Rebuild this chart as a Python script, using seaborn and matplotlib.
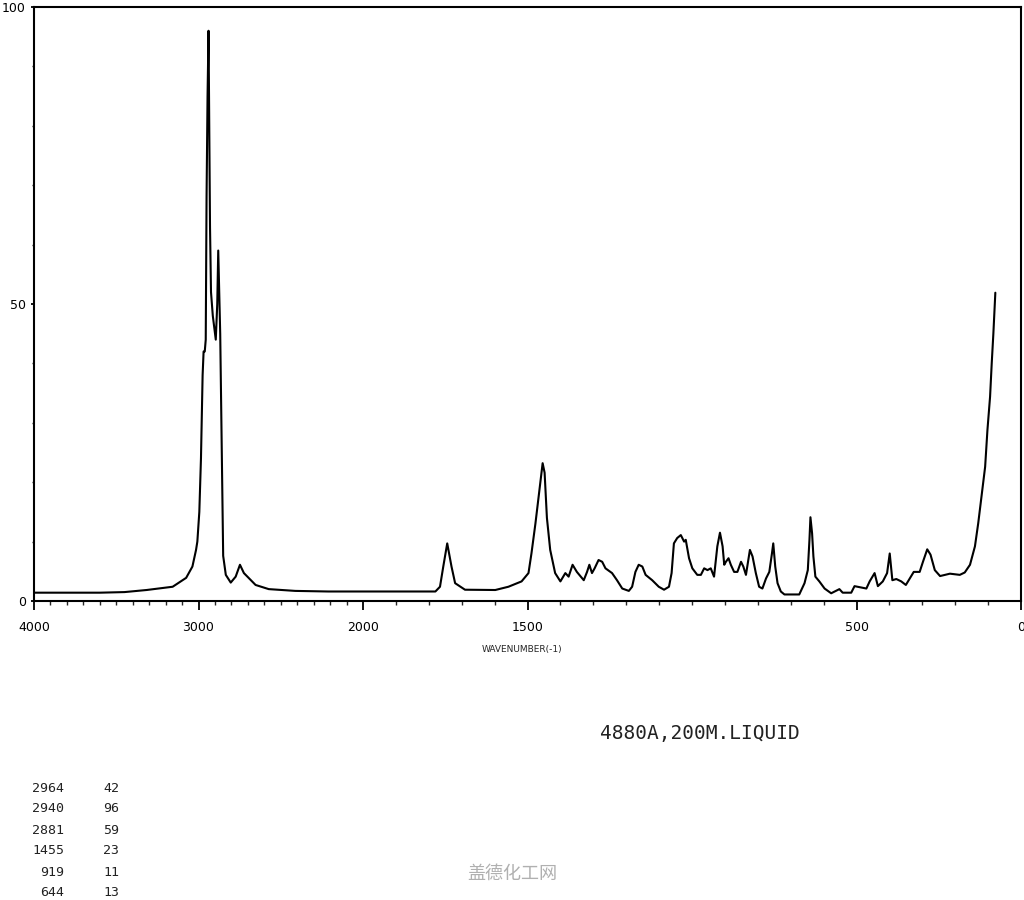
import numpy as np
import pandas as pd
import matplotlib
matplotlib.use("Agg")
import matplotlib.pyplot as plt
from matplotlib.ticker import FixedLocator, NullFormatter
import seaborn as sns

# spectrum (wavenumber, intensity)
wavenumber = [
    4000, 3800, 3600, 3450, 3316, 3157, 3075, 3037, 3015, 3007, 2995, 2985,
    2975, 2969, 2962, 2956, 2951, 2945, 2939, 2930, 2924, 2913, 2900, 2895,
    2886, 2880, 2874, 2868, 2858, 2850, 2834, 2804, 2774, 2748, 2724, 2653,
    2573, 2412, 2211, 2000,
    1900, 1780, 1766, 1756, 1744, 1731, 1720, 1690, 1598, 1558, 1518, 1497,
    1488, 1476, 1466, 1461, 1454, 1448, 1441, 1431, 1416, 1400, 1385, 1375,
    1363, 1350, 1329, 1319, 1312, 1304, 1296, 1284, 1273, 1263, 1243, 1228,
    1212, 1192, 1182, 1172, 1162, 1151, 1141, 1121, 1101, 1085, 1070, 1062,
    1055, 1045, 1034, 1024, 1019, 1009, 999, 984, 973, 963, 953, 943, 933,
    923, 915, 907, 902, 897, 889, 882, 872, 862, 851, 844, 836, 824, 816,
    806, 796, 786, 775, 765, 757, 753, 747, 740, 730, 719, 674, 658, 648,
    643, 640, 635, 631, 625, 613, 597, 577, 552, 542, 516, 506, 470, 460,
    445, 435, 420, 407, 399, 391, 379, 364, 350, 338, 326, 308, 298, 285,
    275, 262, 246, 216, 186, 171, 155, 140, 130, 120, 109, 102, 94, 89, 84, 78,
]
intensity = [
    1.4, 1.4, 1.4, 1.5, 1.85, 2.4, 3.9, 5.8, 8.6, 10, 15, 24,
    38, 42, 42, 44, 68, 85, 96, 63, 52, 48, 45, 44,
    50, 59, 52, 45, 24, 7.6, 4.4, 3.1, 4.1, 6.1, 4.7, 2.7,
    2.0, 1.7, 1.6, 1.6,
    1.6, 1.6, 2.4, 5.8, 9.7, 5.8, 3.0, 1.9, 1.85, 2.4, 3.3, 4.7,
    8, 13, 17.6, 20, 23.2, 21.6, 14, 8.6, 4.7, 3.3, 4.7, 4.1,
    6.1, 4.9, 3.5, 4.9, 6.1, 4.7, 5.5, 6.9, 6.6, 5.5, 4.7, 3.5,
    2.1, 1.7, 2.4, 4.9, 6.1, 5.8, 4.4, 3.5, 2.4, 1.9, 2.4, 4.7,
    9.7, 10.6, 11.1, 10, 10.3, 7.2, 5.5, 4.4, 4.4, 5.5, 5.2, 5.5, 4.1,
    9.2, 11.5, 9.2, 6.1, 6.6, 7.2, 6.1, 4.9, 4.9, 6.6, 5.8, 4.4, 8.6, 7.5,
    4.7, 2.4, 2.1, 3.8, 4.9, 8, 9.7, 5.8, 3.0, 1.6, 1.1, 1.1, 3.0, 5.2,
    10.3, 14.1, 11.4, 7.5, 4.1, 3.3, 2.1, 1.3, 2.0, 1.4, 1.4, 2.5, 2.1, 3.3,
    4.7, 2.5, 3.3, 4.7, 8, 3.5, 3.7, 3.3, 2.7, 3.8, 4.9, 4.9, 6.6, 8.7,
    7.8, 5.2, 4.2, 4.6, 4.4, 4.8, 6.1, 9.2, 13.1, 17.6, 22.6, 28.8, 34.4, 40, 45, 51.9,
]

peak_wn = ["2964", "2940", "2881", "1455", "919", "644"]
peak_int = ["42", "96", "59", "23", "11", "13"]

xtick_labels = [4000, 3000, 2000, 1500, 500, 0]
xtick_minor = list(range(0, 4001, 100))
ytick_labels = [0, 50, 100]
ytick_minor = list(range(0, 101, 10))

sns.set_style("white")
plt.rcParams['font.family'] = ['DejaVu Sans']


def fwd(w):
    # above 2000 cm-1 the chart is drawn at half scale
    w = np.asarray(w, dtype=float)
    return np.where(w <= 2000, w, 2000 + (w - 2000) / 2)


def inv(v):
    v = np.asarray(v, dtype=float)
    return np.where(v <= 2000, v, 2000 + 2 * (v - 2000))


df = pd.DataFrame({"wn": wavenumber, "I": intensity})

fig = plt.figure(figsize=(10.24, 9.0), dpi=100)
ax = fig.add_axes([34 / 1024, 1 - 601 / 900, 987 / 1024, 594 / 900])
ax.set_xscale("function", functions=(fwd, inv))

sns.lineplot(data=df, x="wn", y="I", ax=ax, color="black", linewidth=1.5,
             sort=False, estimator=None)

ax.set_xlim(4000, 0)
ax.set_ylim(0, 100)

ax.xaxis.set_major_locator(FixedLocator(xtick_labels))
ax.xaxis.set_minor_locator(FixedLocator(xtick_minor))
ax.set_xticklabels([str(t) for t in xtick_labels])
ax.xaxis.set_minor_formatter(NullFormatter())
ax.yaxis.set_major_locator(FixedLocator(ytick_labels))
ax.yaxis.set_minor_locator(FixedLocator(ytick_minor))
ax.set_yticklabels([str(t) for t in ytick_labels])

ax.tick_params(axis="x", which="major", direction="out", length=6.5, width=1.3,
               pad=8, labelsize=9, colors="black")
ax.tick_params(axis="x", which="minor", direction="out", length=3, width=1.0)
ax.tick_params(axis="y", which="major", direction="out", length=2, width=1.3,
               pad=4, labelsize=9, colors="black")
ax.tick_params(axis="y", which="minor", direction="out", length=1.5, width=1.0)
ax.tick_params(bottom=True, left=True, which="both")

for s in ax.spines.values():
    s.set_visible(True)
    s.set_color("black")
    s.set_linewidth(1.5)

ax.set_xlabel("WAVENUMBER(-1)", fontsize=6.5)
ax.set_ylabel("")
ax.xaxis.set_label_coords(488 / 987, -44 / 594)

fig.text(600 / 1024, 1 - 733 / 900, "4880A,200M.LIQUID", family="DejaVu Sans Mono",
         fontsize=14, ha="left", va="center", color="#222222")

for i, (w, v) in enumerate(zip(peak_wn, peak_int)):
    yy = 1 - (788 + 21 * i) / 900
    fig.text(64 / 1024, yy, w, family="DejaVu Sans Mono", fontsize=9.5,
             ha="right", va="center", color="#222222")
    fig.text(119 / 1024, yy, v, family="DejaVu Sans Mono", fontsize=9.5,
             ha="right", va="center", color="#222222")

fig.text(512 / 1024, 1 - 874 / 900, "盖德化工网", family=["Noto Sans CJK SC", "DejaVu Sans"],
         fontsize=13, ha="center", va="center", color="#b0b0b0")

fig.savefig("out.png", dpi=100)
